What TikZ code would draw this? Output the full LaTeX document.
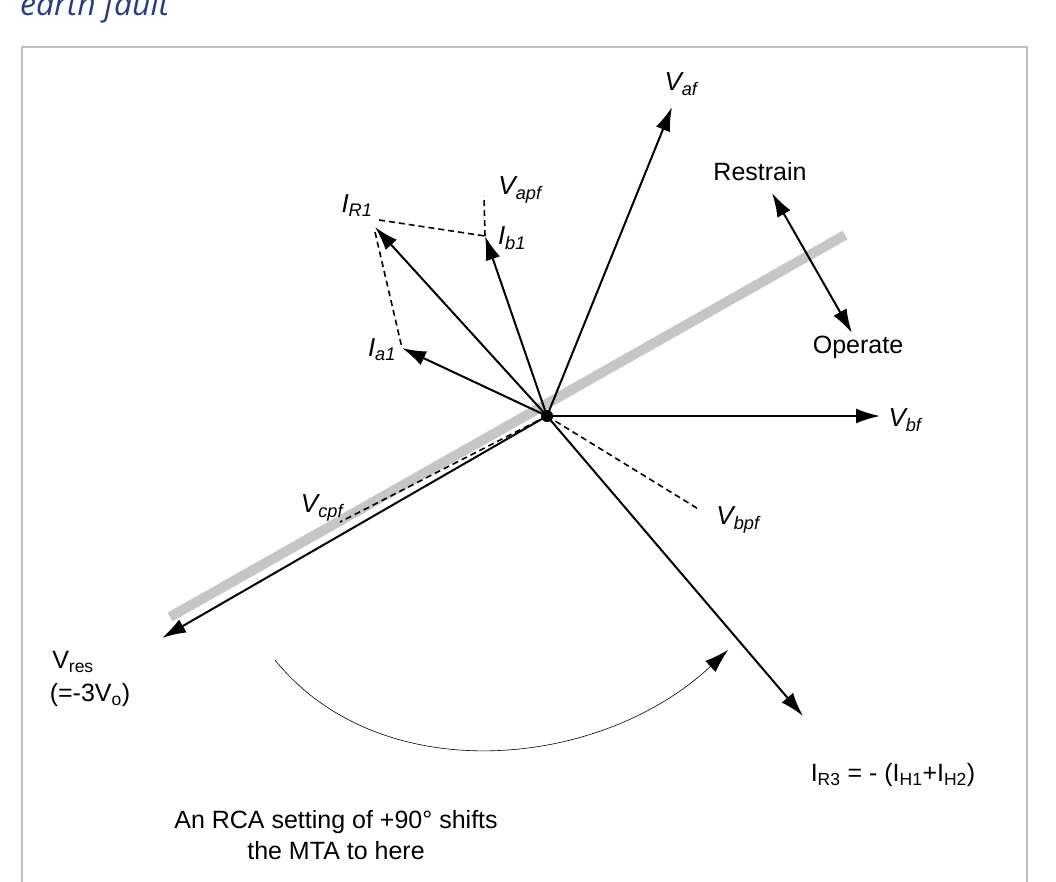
\documentclass[tikz,border=0pt]{standalone}
\usepackage{fontspec}
\setmainfont{Liberation Sans}
\newfontfamily\titlefont{Open Sans}
\usetikzlibrary{arrows.meta}
\definecolor{titleblue}{RGB}{40,60,130}
\begin{document}
\begin{tikzpicture}[x=1pt,y=-1pt,
  vec/.style={line width=2pt,-{Latex[length=24pt,width=15pt]}},
  dsh/.style={line width=1.6pt,dash pattern=on 6pt off 4pt},
  lbl/.style={font=\fontsize{26}{30}\selectfont\itshape,inner sep=0pt},
  txt/.style={font=\fontsize{25}{31}\selectfont,inner sep=0pt,align=center}]
\useasboundingbox (0,0) rectangle (1056,881);
\clip (0,0) rectangle (1056,881);
\node[anchor=base west,inner sep=0pt,text=titleblue,font=\fontsize{32}{36}\selectfont\titlefont\itshape] (title) at (20,15) {earth fault};
\draw[gray!50,line width=1.2pt] (22,900) -- (22,47) -- (1027,47) -- (1027,900);
\coordinate (O) at (547,416);
\coordinate (G1) at (170,617);
\coordinate (G2) at (845,235);
\draw[gray!45,line width=10pt] (G1) -- (G2);
\coordinate (Vres) at (162,638);
\draw[vec] (O) -- (Vres);
\coordinate (Vcpf) at (340,522);
\draw[dsh] (O) -- (Vcpf);
\coordinate (Ia1) at (402,348);
\coordinate (IR1) at (375,227);
\coordinate (Ib1) at (485,236);
\coordinate (Vaf) at (672,107);
\coordinate (Vbf) at (880,416);
\coordinate (Vbpf) at (700,510);
\coordinate (IR3) at (803,716);
\draw[vec] (O) -- (Ia1);
\draw[vec] (O) -- (IR1);
\draw[vec] (O) -- (Ib1);
\draw[vec] (O) -- (Vaf);
\draw[vec] (O) -- (Vbf);
\draw[vec] (O) -- (IR3);
\draw[dsh] (O) -- (Vbpf);
\coordinate (Vapf) at (484,196);
\draw[dsh] (Ib1) -- (Vapf);
\draw[dsh] (379,220) -- (Ib1);
\draw[dsh] (375,232) -- (Ia1);
\fill (O) circle (6pt);
\coordinate (R) at (772,193);
\coordinate (Op) at (852,333);
\draw[line width=2pt,{Latex[length=24pt,width=15pt]}-{Latex[length=24pt,width=15pt]}] (R) -- (Op);
\coordinate (A1) at (275,660);
\coordinate (A2) at (728,650);
\draw[line width=0.6pt,-{Latex[length=24pt,width=15pt]}] (A1) .. controls (380,790) and (600,770) .. (A2);
\node[lbl] (lVaf) at (681,84) {V\textsubscript{af}};
\node[lbl] (lVapf) at (520,190) {V\textsubscript{apf}};
\node[lbl] (lIR1) at (357,206) {I\textsubscript{R1}};
\node[lbl] (lIb1) at (512,238) {I\textsubscript{b1}};
\node[lbl] (lIa1) at (382,350) {I\textsubscript{a1}};
\node[lbl] (lVbf) at (905,420) {V\textsubscript{bf}};
\node[lbl] (lVbpf) at (738,520) {V\textsubscript{bpf}};
\node[lbl] (lVcpf) at (322,508) {V\textsubscript{cpf}};
\node[txt] (lR) at (760,172) {Restrain};
\node[txt] (lO) at (858,347) {Operate};
\node[txt] (lVres) at (73,662) {V\textsubscript{res}};
\node[txt] (lV3) at (90,695) {(=-3V\textsubscript{o})};
\node[txt] (lIR3) at (893,775) {I\textsubscript{R3} = - (I\textsubscript{H1}+I\textsubscript{H2})};
\node[txt] (note) at (336,835) {An RCA setting of +90° shifts\\the MTA to here};
\end{tikzpicture}
\end{document}
